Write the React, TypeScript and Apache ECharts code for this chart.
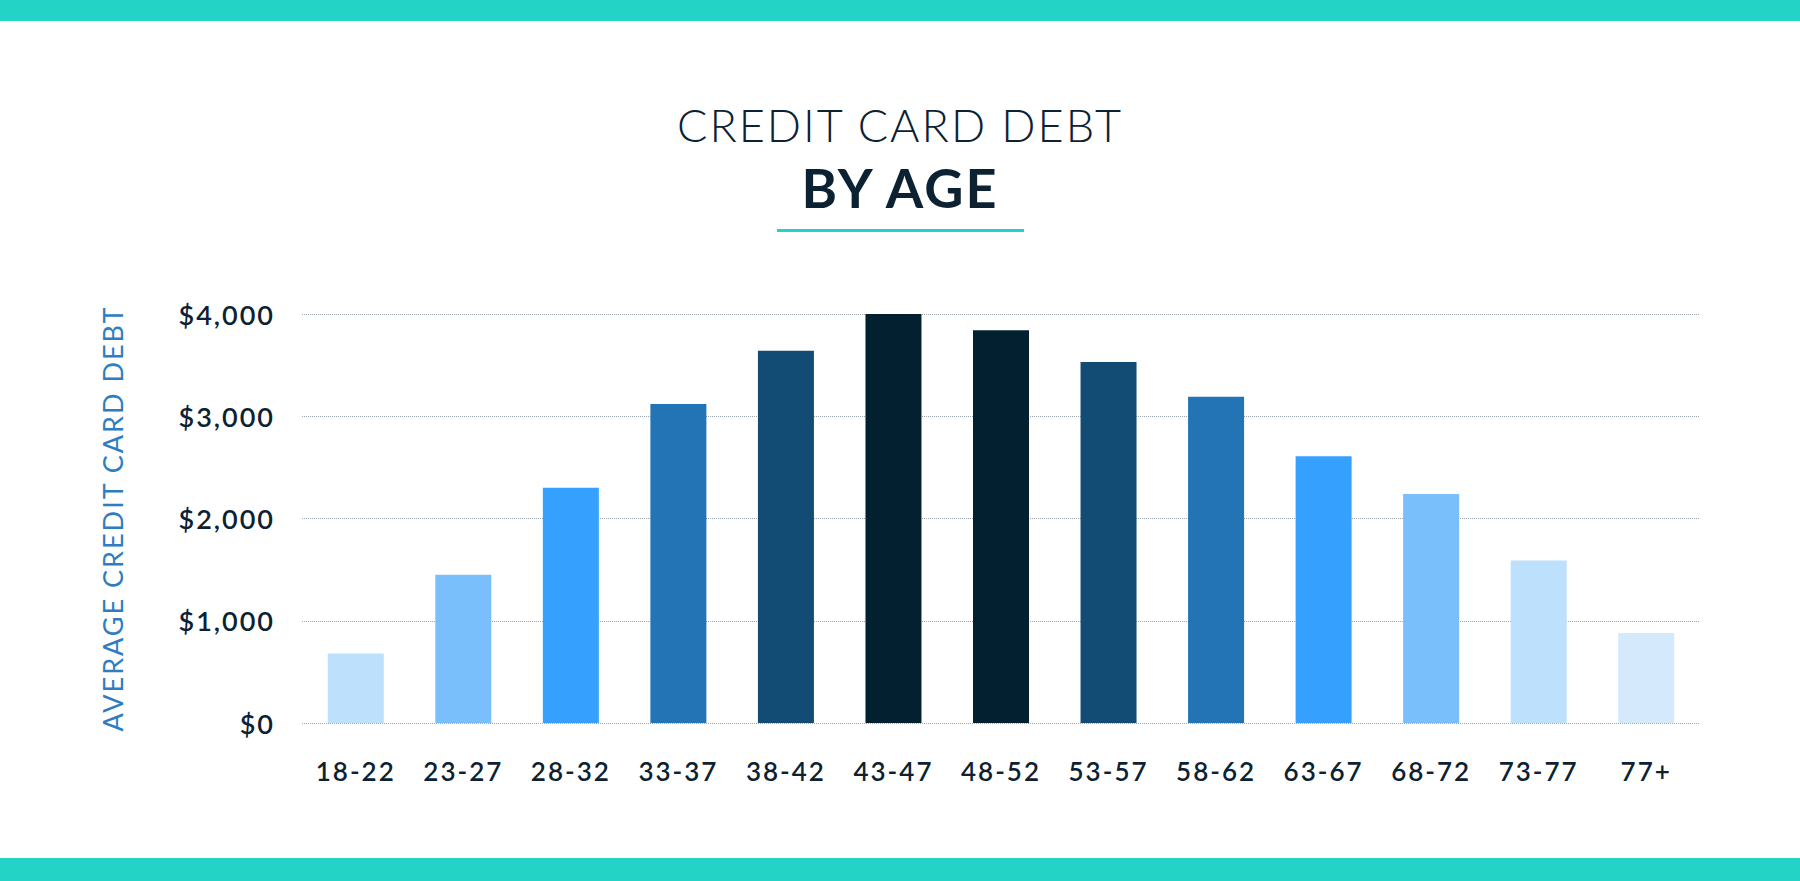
import { useEffect, useRef } from 'react';
import * as echarts from 'echarts';

const ageGroups = ['18-22', '23-27', '28-32', '33-37', '38-42', '43-47', '48-52', '53-57', '58-62', '63-67', '68-72', '73-77', '77+'];
const avgDebt = [680, 1450, 2300, 3120, 3640, 4000, 3840, 3530, 3190, 2610, 2240, 1590, 880];
const barColors = ['#bde0fc', '#79bffc', '#35a0fe', '#2374b5', '#124b73', '#02202f', '#02202f', '#124b73', '#2374b5', '#35a0fe', '#79bffc', '#bde0fc', '#d4e9fc'];
const yTicks = [0, 1000, 2000, 3000, 4000];

const TEAL = '#22d3c6';
const INK = '#0c2233';
const FONT = 'Lato, "Open Sans", sans-serif';

export default function App() {
  const chartRef = useRef<HTMLDivElement>(null);

  useEffect(() => {
    if (!chartRef.current) return;
    const chart = echarts.init(chartRef.current, null, { renderer: 'svg' });

    chart.setOption({
      animation: false,
      backgroundColor: '#ffffff',
      grid: { left: 302, right: 100, top: 314, bottom: 158 },
      graphic: [
        { type: 'rect', shape: { x: 0, y: 0, width: 1800, height: 21 }, style: { fill: TEAL } },
        { type: 'rect', shape: { x: 0, y: 858, width: 1800, height: 23 }, style: { fill: TEAL } },
        {
          type: 'text',
          x: 900,
          y: 125,
          style: {
            text: 'CREDIT CARD DEBT',
            align: 'center',
            verticalAlign: 'middle',
            fontFamily: FONT,
            fontWeight: 300,
            fontSize: 45,
            fill: INK,
          },
        },
        {
          type: 'text',
          x: 900,
          y: 187,
          style: {
            text: 'BY AGE',
            align: 'center',
            verticalAlign: 'middle',
            fontFamily: FONT,
            fontWeight: 700,
            fontSize: 54,
            fill: INK,
          },
        },
        { type: 'rect', shape: { x: 777, y: 229, width: 247, height: 3 }, style: { fill: TEAL } },
      ],
      xAxis: {
        type: 'category',
        data: ageGroups,
        axisLine: { show: false },
        axisTick: { show: false },
        axisLabel: {
          color: INK,
          fontFamily: FONT,
          fontWeight: 600,
          fontSize: 26,
          margin: 35,
        },
      },
      yAxis: {
        type: 'value',
        min: 0,
        max: 4000,
        interval: 1000,
        name: 'AVERAGE CREDIT CARD DEBT',
        nameLocation: 'middle',
        nameGap: 176,
        nameRotate: 90,
        nameTextStyle: {
          color: '#2d7dc2',
          fontFamily: FONT,
          fontWeight: 400,
          fontSize: 27,
        },
        axisLine: { show: false },
        axisTick: { show: false },
        axisLabel: {
          color: INK,
          fontFamily: FONT,
          fontWeight: 600,
          fontSize: 27,
          margin: 27,
          formatter: (v: number) => (yTicks.includes(v) ? '$' + v.toLocaleString('en-US') : ''),
        },
        splitLine: {
          show: true,
          showMinLine: true,
          lineStyle: { color: '#9aa5ae', type: 'dotted', width: 1 },
        },
      },
      series: [
        {
          type: 'bar',
          barWidth: 56,
          data: avgDebt.map((v, i) => ({ value: v, itemStyle: { color: barColors[i] } })),
        },
      ],
    });

    return () => {
      chart.dispose();
    };
  }, []);

  return (
    <>
      <style>{`.debt-chart text { letter-spacing: 2px; }`}</style>
      <div
        ref={chartRef}
        className="debt-chart"
        style={{ position: 'fixed', left: 0, top: 0, width: 1800, height: 881, background: '#fff' }}
      />
    </>
  );
}
